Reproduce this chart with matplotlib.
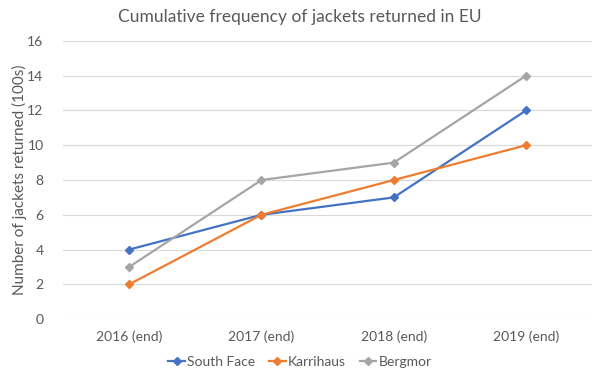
import matplotlib
matplotlib.use('Agg')
import matplotlib.pyplot as plt

# Datos
categorias = ['2016 (end)', '2017 (end)', '2018 (end)', '2019 (end)']
south_face = [4, 6, 7, 12]
karrihaus = [2, 6, 8, 10]
bergmor = [3, 8, 9, 14]
y_ticks = [0, 2, 4, 6, 8, 10, 12, 14, 16]

plt.rcParams['font.family'] = ['Lato', 'DejaVu Sans']

fig = plt.figure(figsize=(6, 3.79), dpi=100)
ax = fig.add_axes([0.105, 0.158, 0.882, 0.734])

x = list(range(len(categorias)))
series = [
    ('South Face', south_face, '#4472C4'),
    ('Karrihaus', karrihaus, '#ED7D31'),
    ('Bergmor', bergmor, '#A5A5A5'),
]
for nombre, valores, color in series:
    ax.plot(x, valores, color=color, linewidth=1.6, marker='D', markersize=4.5,
            label=nombre)

ax.set_xlim(-0.5, len(categorias) - 0.5)
ax.set_ylim(0, 16)
ax.set_yticks(y_ticks)
ax.set_xticks(x)
ax.set_xticklabels(categorias)
ax.tick_params(axis='both', length=0, labelsize=10, labelcolor='#595959', pad=8)
ax.tick_params(axis='y', pad=14)
ax.grid(axis='y', color='#D9D9D9', linewidth=0.8)
ax.set_axisbelow(True)
for s in ax.spines.values():
    s.set_visible(False)

ax.set_ylabel('Number of jackets returned (100s)', fontsize=11, color='#595959')
ax.yaxis.set_label_coords(-0.068, 0.5)
fig.text(0.5, 0.955, 'Cumulative frequency of jackets returned in EU',
         ha='center', va='center', fontsize=12.5, color='#595959')

fig.legend(loc='center', bbox_to_anchor=(0.5, 0.045), ncol=3, frameon=False,
           fontsize=10, labelcolor='#595959', handlelength=1.2, handletextpad=0.15,
           columnspacing=1.0)

plt.savefig('out.png', dpi=100, facecolor='white')
plt.close(fig)
